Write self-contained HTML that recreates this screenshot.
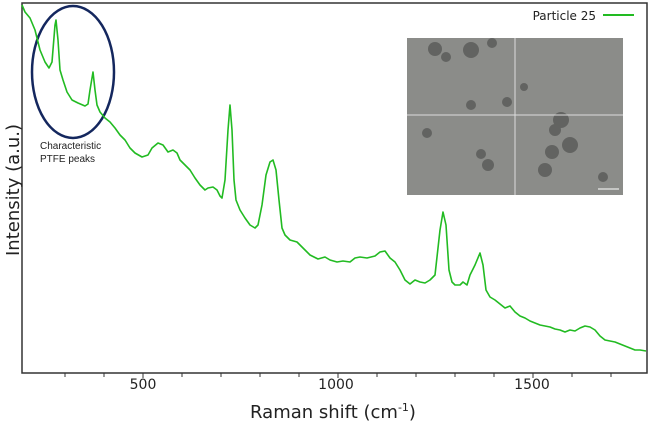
<!DOCTYPE html>
<html><head><style>
html,body{margin:0;padding:0;background:#fff;width:650px;height:429px;overflow:hidden}
svg{display:block;font-family:"DejaVu Sans","Liberation Sans",sans-serif}
</style></head><body>
<svg width="650" height="429" viewBox="0 0 650 429">
<rect x="22" y="3" width="625" height="370" fill="#fff" stroke="#333" stroke-width="1.5"/>
<!-- ticks -->
<g stroke="#333" stroke-width="1">
<line x1="65" y1="373" x2="65" y2="377"/><line x1="104" y1="373" x2="104" y2="377"/>
<line x1="143" y1="373" x2="143" y2="378"/><line x1="182" y1="373" x2="182" y2="377"/>
<line x1="221" y1="373" x2="221" y2="377"/><line x1="260" y1="373" x2="260" y2="377"/>
<line x1="299" y1="373" x2="299" y2="377"/><line x1="338" y1="373" x2="338" y2="378"/>
<line x1="377" y1="373" x2="377" y2="377"/><line x1="416" y1="373" x2="416" y2="377"/>
<line x1="455" y1="373" x2="455" y2="377"/><line x1="494" y1="373" x2="494" y2="377"/>
<line x1="533" y1="373" x2="533" y2="378"/><line x1="572" y1="373" x2="572" y2="377"/>
<line x1="611" y1="373" x2="611" y2="377"/>
</g>
<g font-size="14" fill="#222" text-anchor="middle">
<text x="143" y="389">500</text><text x="336" y="389">1000</text><text x="532" y="389">1500</text>
</g>
<text x="333" y="418" font-size="18" text-anchor="middle" fill="#222">Raman shift (cm<tspan font-size="11" dy="-7">-1</tspan><tspan dy="7">)</tspan></text>
<text transform="translate(19,190) rotate(-90)" font-size="18" text-anchor="middle" fill="#222">Intensity (a.u.)</text>
<!-- inset -->
<rect x="407" y="38" width="216" height="157" fill="#8b8c89"/>
<g fill="#5c5d5b" opacity="0.85">
<circle cx="435" cy="49" r="7"/><circle cx="446" cy="57" r="5"/><circle cx="471" cy="50" r="8"/><circle cx="492" cy="43" r="5"/>
<circle cx="524" cy="87" r="4"/><circle cx="471" cy="105" r="5"/><circle cx="507" cy="102" r="5"/><circle cx="427" cy="133" r="5"/>
<circle cx="481" cy="154" r="5"/><circle cx="488" cy="165" r="6"/><circle cx="561" cy="120" r="8"/><circle cx="570" cy="145" r="8"/>
<circle cx="552" cy="152" r="7"/><circle cx="545" cy="170" r="7"/><circle cx="603" cy="177" r="5"/><circle cx="555" cy="130" r="6"/>
</g>
<line x1="515" y1="38" x2="515" y2="195" stroke="#ddd" stroke-width="1"/>
<line x1="407" y1="115" x2="623" y2="115" stroke="#ddd" stroke-width="1"/>
<line x1="598" y1="189" x2="619" y2="189" stroke="#fff" stroke-width="1"/>
<!-- legend -->
<text x="596" y="20" font-size="12" text-anchor="end" fill="#222">Particle 25</text>
<line x1="603" y1="15" x2="634" y2="15" stroke="#22bb22" stroke-width="2"/>
<!-- ellipse -->
<ellipse cx="73" cy="72" rx="41" ry="66" fill="none" stroke="#14275e" stroke-width="2.5"/>
<text x="40" y="149" font-size="10" fill="#222" font-family="Liberation Sans,sans-serif">Characteristic</text>
<text x="40" y="162" font-size="10" fill="#222" font-family="Liberation Sans,sans-serif">PTFE peaks</text>
<polyline fill="none" stroke="#22bb22" stroke-width="1.6" stroke-linejoin="round" points="22,5 25,12 30,18 35,30 40,50 45,62 49,68 52,62 55,25 56,20 58,40 60,70 63,80 67,92 72,100 78,103 85,106 88,104 90,90 93,72 95,90 97,105 100,112 105,118 110,122 115,128 120,135 125,140 130,148 135,153 142,157 148,155 152,148 158,143 163,145 168,152 173,150 177,153 180,160 185,165 190,170 195,178 200,185 205,190 208,188 213,187 217,190 220,196 222,198 225,180 228,130 230,105 232,130 234,180 236,200 240,210 245,218 250,225 255,228 258,225 262,205 266,175 270,162 273,160 276,170 279,200 282,228 285,235 290,240 297,242 305,250 310,255 318,259 325,257 330,260 337,262 343,261 350,262 355,258 360,257 367,258 375,256 380,252 385,251 390,258 395,262 400,270 405,280 410,284 415,280 420,282 425,283 430,280 435,275 440,230 443,212 446,225 449,270 452,282 455,285 460,285 463,282 467,285 470,275 475,265 480,253 483,265 486,290 490,297 495,300 500,304 505,308 510,306 515,312 520,316 525,318 530,321 535,323 540,325 545,326 550,327 555,329 560,330 565,332 570,330 575,331 580,328 585,326 590,327 595,330 600,336 605,340 610,341 615,342 620,344 625,346 630,348 635,350 640,350 646,351"/>
</svg>
</body></html>
